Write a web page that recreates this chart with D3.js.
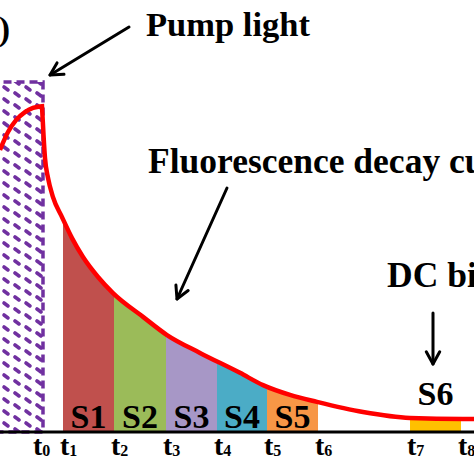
<!DOCTYPE html>
<html>
<head>
<meta charset="utf-8">
<script src="https://cdn.jsdelivr.net/npm/d3@7"></script>
<style>
  html, body { margin: 0; padding: 0; background: #fff; }
  svg { display: block; font-family: "Liberation Serif", "Times New Roman", serif; font-weight: bold; }
</style>
</head>
<body>
<svg width="474" height="474"></svg>
<script>
let width = 474;
let height = 474;

// rising edge of the curve while the pump is on (time, intensity)
let riseCurve = [[0, 80.6], [1.69, 85.7], [3.38, 89.1], [5.27, 91.4], [6.96, 92.6], [8.86, 93.1]];
// fluorescence decay after the pump switches off
let decayCurve = [[8.86, 93.1], [9.18, 84.9], [9.49, 78.3], [10.13, 72.6], [11.18, 67.1],
  [13.08, 61.4], [15.19, 55.4], [17.51, 50.0], [20.68, 44.3], [23.84, 39.7], [30.17, 32.9],
  [35.23, 27.7], [42.19, 22.6], [50.63, 16.9], [55.49, 13.4], [61.18, 10.6], [66.88, 8.6],
  [76.58, 5.7], [86.5, 4.0], [97.68, 3.7], [100, 3.7]];

// pump pulse (start, end, level)
let pump = [-2, 9.07, 100];

let tickNames = ['0', '1', '2', '3', '4', '5', '6', '7', '8'];
let tickTimes = [9.07, 13.29, 24.05, 35.02, 45.78, 56.33, 67.09, 86.5, 97.26];

let segNames = ['S1', 'S2', 'S3', 'S4', 'S5', 'S6'];
let segStart = [13.29, 24.05, 35.02, 45.78, 56.33, 86.5];
let segEnd = [24.05, 35.02, 45.78, 56.33, 67.09, 97.26];
let segColors = ['#C0504D', '#9BBB59', '#A797C6', '#4BACC6', '#F79646', '#FFC000'];

let x = d3.scaleLinear().domain([0, 100]).range([0, 474]);
let y = d3.scaleLinear().domain([0, 100]).range([432, 82]);

let svg = d3.select('svg');
let defs = svg.append('defs');

// dashed fill of the pump pulse
let pat = defs.append('pattern')
  .attr('id', 'dots')
  .attr('patternUnits', 'userSpaceOnUse')
  .attr('x', 1)
  .attr('width', 22)
  .attr('height', 12);
pat.append('line').attr('x1', 3).attr('y1', 3).attr('x2', 7).attr('y2', 6);
pat.append('line').attr('x1', 14).attr('y1', 9).attr('x2', 18).attr('y2', 12);
pat.append('line').attr('x1', 14).attr('y1', -3).attr('x2', 18).attr('y2', 0);
pat.selectAll('line')
  .attr('stroke', '#7030A0')
  .attr('stroke-width', 3.6)
  .attr('stroke-linecap', 'round');

let line = d3.line()
  .x(d => x(d[0]))
  .y(d => y(d[1]))
  .curve(d3.curveMonotoneX);

let curvePath = line(riseCurve) + line(decayCurve).replace('M', 'L');

// area under the decay curve, used to clip the S bars
let area = d3.area()
  .x(d => x(d[0]))
  .y0(y(0))
  .y1(d => y(d[1]))
  .curve(d3.curveMonotoneX);
defs.append('clipPath').attr('id', 'under')
  .append('path').attr('d', area(decayCurve));

// pump pulse
svg.append('rect')
  .attr('x', x(pump[0]))
  .attr('y', y(pump[2]))
  .attr('width', x(pump[1]) - x(pump[0]))
  .attr('height', y(0) - y(pump[2]))
  .attr('fill', 'url(#dots)')
  .attr('stroke', '#7030A0')
  .attr('stroke-width', 3.5)
  .attr('stroke-dasharray', '8,5');

// S integration windows
svg.append('g')
  .attr('clip-path', 'url(#under)')
  .selectAll('rect')
  .data(segNames)
  .enter()
  .append('rect')
  .attr('x', (d, i) => x(segStart[i]))
  .attr('y', y(100))
  .attr('width', (d, i) => x(segEnd[i]) - x(segStart[i]))
  .attr('height', y(0) - y(100))
  .attr('fill', (d, i) => segColors[i]);

// curve
svg.append('path')
  .attr('d', curvePath)
  .attr('fill', 'none')
  .attr('stroke', '#FF0000')
  .attr('stroke-width', 4.5)
  .attr('stroke-linejoin', 'miter');

// time axis
svg.append('line')
  .attr('x1', 0).attr('x2', width)
  .attr('y1', y(0)).attr('y2', y(0))
  .attr('stroke', '#000')
  .attr('stroke-width', 3);

let tl = svg.append('g').selectAll('text')
  .data(tickNames)
  .enter()
  .append('text')
  .attr('x', (d, i) => x(tickTimes[i]) - (i === 0 ? 10 : 3))
  .attr('y', 455)
  .attr('font-size', 28);
tl.append('tspan').text('t');
tl.append('tspan').attr('font-size', 16).attr('dy', 1).text(d => d);

// S labels
let segLabelY = [428, 428, 428, 428, 428, 405];
svg.append('g').selectAll('text')
  .data(segNames)
  .enter()
  .append('text')
  .attr('x', (d, i) => (x(segStart[i]) + x(segEnd[i])) / 2)
  .attr('y', (d, i) => segLabelY[i])
  .attr('text-anchor', 'middle')
  .attr('font-size', 34)
  .text(d => d);

// annotations
function arrow(x1, y1, x2, y2) {
  let a = Math.atan2(y2 - y1, x2 - x1);
  let L = 14, w = 0.5;
  let g = svg.append('g').attr('stroke', '#000').attr('stroke-width', 3).attr('fill', 'none')
    .attr('stroke-linecap', 'round').attr('stroke-linejoin', 'round');
  g.append('line').attr('x1', x1).attr('y1', y1).attr('x2', x2).attr('y2', y2);
  g.append('path').attr('d', 'M' + (x2 - L * Math.cos(a - w)) + ',' + (y2 - L * Math.sin(a - w)) +
    'L' + x2 + ',' + y2 +
    'L' + (x2 - L * Math.cos(a + w)) + ',' + (y2 - L * Math.sin(a + w)));
}

svg.append('text').attr('x', 10).attr('y', 40).attr('text-anchor', 'end')
  .attr('font-size', 34).text('(b)');

svg.append('text').attr('x', 146).attr('y', 36).attr('font-size', 34.5).text('Pump light');
arrow(129, 27, 50, 75);

svg.append('text').attr('x', 148).attr('y', 173).attr('font-size', 35.5).text('Fluorescence decay curve');
arrow(227, 188, 177, 299);

svg.append('text').attr('x', 387).attr('y', 287).attr('font-size', 35.5).text('DC bias');
arrow(433, 313, 433, 364);
</script>
</body>
</html>
